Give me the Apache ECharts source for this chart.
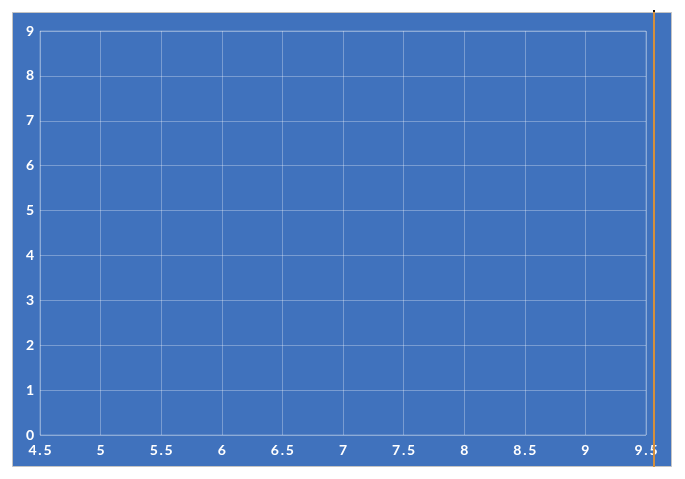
<!DOCTYPE html>
<html>
<head>
<meta charset="utf-8">
<script src="https://cdn.jsdelivr.net/npm/echarts@6/dist/echarts.min.js"></script>
<style>
  html, body { margin: 0; padding: 0; background: #ffffff; }
  #chart { width: 685px; height: 479px; }
</style>
</head>
<body>
<div id="chart"></div>
<script>
// axis ranges and ticks
const xMin = 4.5, xMax = 9.5, xStep = 0.5;
const yMin = 0, yMax = 9, yStep = 1;
// vertical cursor position (x value)
const cursorX = [9.566];

const W = 685, H = 479, gridLeft = 40, gridRight = 39, boxRight = 13, boxTop = 12, boxBottom = 12;
// overlay grid spans the full box; keep the same x scale, allow a 2px cap above the box
const pxPerUnit = (W - gridLeft - gridRight) / (xMax - xMin);
const overlayXMax = xMax + (gridRight - boxRight) / pxPerUnit;
const boxH = H - boxTop - boxBottom;
const capTop = 1 + 2 / boxH;

const chart = echarts.init(document.getElementById('chart'));

const labelStyle = { color: '#ffffff', fontFamily: 'Lato', fontWeight: 'bold', fontSize: 14 };
const gridLine = { lineStyle: { color: 'rgba(255,255,255,0.3)', width: 1 } };
// labels in the picture are drawn with wide letter spacing
const spaced = v => String(v).split('').join('\u2009');

chart.setOption({
    backgroundColor: '#ffffff',
    animation: false,
    graphic: [{
        type: 'rect',
        z: -10,
        shape: { x: 12.5, y: 12.5, width: 659, height: 454 },
        style: { fill: '#4072bd', stroke: '#c4c4c4', lineWidth: 1 }
    }],
    grid: [
        { left: gridLeft, right: gridRight, top: 31, bottom: 44, show: true, borderColor: 'rgba(255,255,255,0.3)', borderWidth: 1 },
        { left: gridLeft, right: boxRight, top: boxTop - 2, bottom: boxBottom }
    ],
    xAxis: [
        {
            gridIndex: 0, type: 'value', min: xMin, max: xMax, interval: xStep,
            axisLine: { show: false }, axisTick: { show: false },
            axisLabel: Object.assign({ margin: 8, formatter: spaced }, labelStyle),
            splitLine: Object.assign({ show: true }, gridLine)
        },
        { gridIndex: 1, type: 'value', min: xMin, max: overlayXMax, show: false }
    ],
    yAxis: [
        {
            gridIndex: 0, type: 'value', min: yMin, max: yMax, interval: yStep,
            axisLine: { show: false }, axisTick: { show: false },
            axisLabel: Object.assign({ margin: 6, formatter: spaced }, labelStyle),
            splitLine: Object.assign({ show: true }, gridLine)
        },
        { gridIndex: 1, type: 'value', min: 0, max: capTop, show: false }
    ],
    series: [
        {
            type: 'line', xAxisIndex: 1, yAxisIndex: 1, symbol: 'none', z: 10,
            lineStyle: { color: '#d4903e', width: 2 },
            data: [[cursorX[0], 0], [cursorX[0], 1]]
        },
        {
            type: 'line', xAxisIndex: 1, yAxisIndex: 1, symbol: 'none', z: 11,
            lineStyle: { color: '#111111', width: 2 },
            data: [[cursorX[0], 1], [cursorX[0], capTop]]
        }
    ]
});
</script>
</body>
</html>
